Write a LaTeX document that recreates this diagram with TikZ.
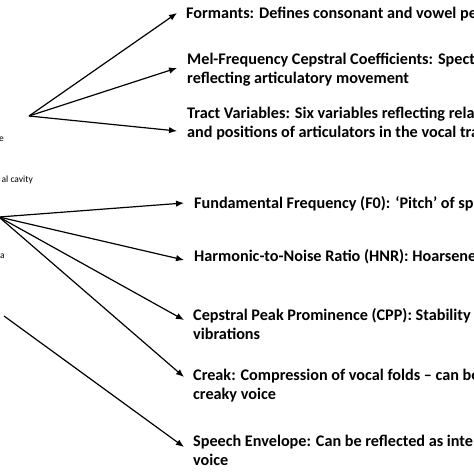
\documentclass[tikz,border=0pt]{standalone}
\usepackage{fontspec}
\setmainfont{Carlito}
\usetikzlibrary{arrows.meta}

\tikzset{
  feature/.style={anchor=base west, inner sep=0pt, align=left,
    font=\bfseries\fontsize{16.2}{19}\selectfont},
  stub/.style={anchor=east, inner sep=0pt, font=\fontsize{9.5}{11}\selectfont},
  arr/.style={line width=1.2pt, -{Latex[length=8pt,width=6.5pt]}},
}

\begin{document}
\begin{tikzpicture}[x=1pt, y=-1pt]
  \clip (0,0) rectangle (474,474);

  % labels cut off at the left edge
  \node[stub] (stub-e) at (4,139) {e};
  \node[stub] (stub-cavity) at (33,180) {al cavity};
  \node[stub] (stub-a) at (5,256) {a};

  \coordinate (tract-src) at (29,116);
  \coordinate (source-src) at (-1,217);
  \coordinate (env-src) at (4,316);

  % base west is the baseline of the last line
  \node[feature] (formants) at (186,18) {Formants: Defines consonant and vowel perception};
  \node[feature] (mfcc) at (187,83) {Mel-Frequency Cepstral Coefficients: Spectral\\reflecting articulatory movement};
  \node[feature] (tv) at (187,137) {Tract Variables: Six variables reflecting relative\\and positions of articulators in the vocal tract};

  \node[feature] (f0) at (194,208) {Fundamental Frequency (F0): ‘Pitch’ of speech};
  \node[feature] (hnr) at (194,261) {Harmonic-to-Noise Ratio (HNR): Hoarseness};
  \node[feature] (cpp) at (193,339) {Cepstral Peak Prominence (CPP): Stability\\vibrations};
  \node[feature] (creak) at (193,399) {Creak: Compression of vocal folds -- can be\\creaky voice};
  \node[feature] (env) at (193,465) {Speech Envelope: Can be reflected as intensity\\voice};

  \draw[arr] (tract-src) -- ([shift={(-9,-5)}]formants.base west);
  \draw[arr] (tract-src) -- ([shift={(-10,-15)}]mfcc.base west);
  \draw[arr] (tract-src) -- ([shift={(-10,-6)}]tv.base west);

  \draw[arr] (source-src) -- ([shift={(-10,-5)}]f0.base west);
  \draw[arr] (source-src) -- ([shift={(-10,-1)}]hnr.base west);
  \draw[arr] (source-src) -- ([shift={(-9,-19)}]cpp.base west);
  \draw[arr] (source-src) -- ([shift={(-9,-22)}]creak.base west);

  \draw[arr] (env-src) -- ([shift={(-9,-18)}]env.base west);
\end{tikzpicture}
\end{document}
